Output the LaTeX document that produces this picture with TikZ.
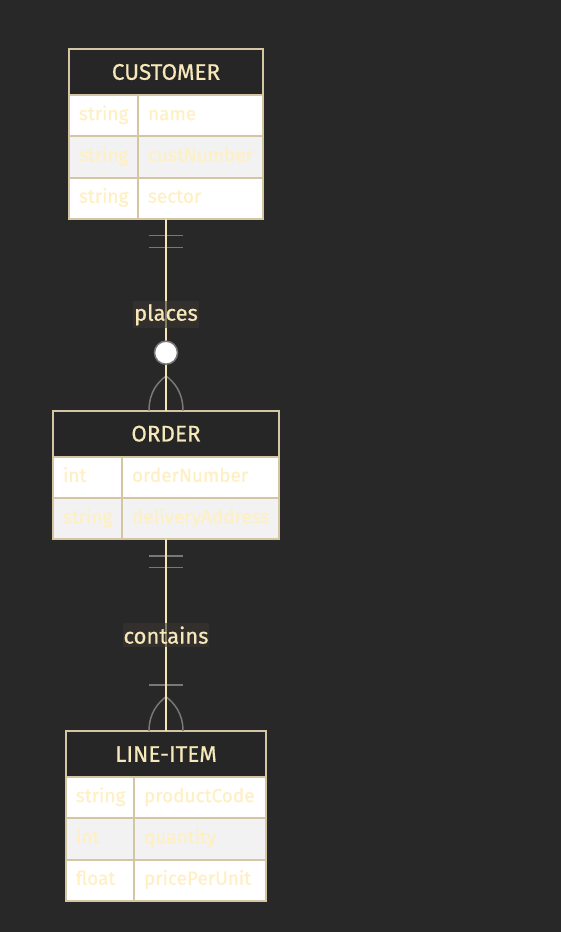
\documentclass[tikz,border=0pt]{standalone}
\usepackage{fontspec}
\setmainfont{Fira Sans}[FakeBold=0.6]
\usepackage{tikz}
\hyphenpenalty=10000
\exhyphenpenalty=10000
\definecolor{bgdark}{HTML}{282828}
\definecolor{headfill}{HTML}{262626}
\definecolor{border}{HTML}{D5C6A3}
\definecolor{headtext}{HTML}{F7E8BA}
\definecolor{attrtext}{HTML}{FFF0C4}
\definecolor{rowalt}{HTML}{F2F2F2}
\definecolor{linecol}{HTML}{F5E7B5}
\definecolor{markgray}{HTML}{787878}
\definecolor{labelbg}{HTML}{3A3530}
\tikzstyle{header} = [rectangle, draw=border, line width=2pt, outer sep=0pt, fill=headfill, text=headtext, minimum height=46pt, inner sep=0pt, font=\fontsize{22.5}{26}\selectfont]
\tikzstyle{cell} = [rectangle, draw=border, line width=2pt, outer sep=0pt, fill=white, text=attrtext, minimum height=41.3pt, inner xsep=10pt, inner ysep=0pt, align=left, text height=14pt, text depth=5pt, font=\fontsize{19}{23}\selectfont]
\tikzstyle{altcell} = [cell, fill=rowalt]
\tikzstyle{rel} = [line width=1.6pt, draw=linecol]
\tikzstyle{reltext} = [fill=labelbg, fill opacity=0.6, text opacity=1, text=headtext, inner xsep=1pt, inner ysep=3pt, font=\fontsize{22}{26}\selectfont]
\tikzstyle{marker} = [line width=1.5pt, draw=markgray]

\begin{document}
\begin{tikzpicture}[x=1pt, y=-1pt]
    \fill [bgdark] (0,0) rectangle (561,932);
    \useasboundingbox (0,0) rectangle (561,932);

    % customer
    \node (customer) [header, minimum width=194pt, anchor=north] at (166,49) {CUSTOMER};
    \node (custtype1) [cell, text width=49pt, anchor=north west] at (customer.south west) {string};
    \node (custname1) [cell, text width=105pt, anchor=north west] at (custtype1.north east) {name};
    \node (custtype2) [altcell, text width=49pt, anchor=north west] at (custtype1.south west) {string};
    \node (custname2) [altcell, text width=105pt, anchor=north west] at (custtype2.north east) {custNumber};
    \node (custtype3) [cell, text width=49pt, anchor=north west] at (custtype2.south west) {string};
    \node (custname3) [cell, text width=105pt, anchor=north west] at (custtype3.north east) {sector};

    % order
    \node (order) [header, minimum width=226pt, anchor=north] at (166,410.7) {ORDER};
    \node (ordtype1) [cell, text width=49pt, anchor=north west] at (order.south west) {int};
    \node (ordname1) [cell, text width=137pt, anchor=north west] at (ordtype1.north east) {orderNumber};
    \node (ordtype2) [altcell, text width=49pt, anchor=north west] at (ordtype1.south west) {string};
    \node (ordname2) [altcell, text width=137pt, anchor=north west] at (ordtype2.north east) {deliveryAddress};

    % line item
    \node (lineitem) [header, minimum width=200pt, anchor=north] at (166,731) {LINE-ITEM};
    \node (itemtype1) [cell, text width=48pt, anchor=north west] at (lineitem.south west) {string};
    \node (itemname1) [cell, text width=112pt, anchor=north west] at (itemtype1.north east) {productCode};
    \node (itemtype2) [altcell, text width=48pt, anchor=north west] at (itemtype1.south west) {int};
    \node (itemname2) [altcell, text width=112pt, anchor=north west] at (itemtype2.north east) {quantity};
    \node (itemtype3) [cell, text width=48pt, anchor=north west] at (itemtype2.south west) {float};
    \node (itemname3) [cell, text width=112pt, anchor=north west] at (itemtype3.north east) {pricePerUnit};

    % markers under the lines
    \draw [marker] (149,235.7) -- (183,235.7);
    \draw [marker] (149,247.3) -- (183,247.3);
    \draw [marker] (149,410.7) .. controls (149,392) and (158,382) .. (166,376) .. controls (174,382) and (183,392) .. (183,410.7);
    \draw [marker] (149,556) -- (183,556);
    \draw [marker] (149,567.7) -- (183,567.7);
    \draw [marker] (149,685) -- (183,685);
    \draw [marker] (149,731) .. controls (149,713) and (158,703) .. (166,696.7) .. controls (174,703) and (183,713) .. (183,731);

    \draw [rel] (customer |- custtype3.south) -- node [reltext] {places} (order.north);
    \draw [rel] (order |- ordtype2.south) -- node [reltext] {contains} (lineitem.north);

    \draw [marker, fill=white] (166,352.7) circle (11.5pt);
\end{tikzpicture}
\end{document}
